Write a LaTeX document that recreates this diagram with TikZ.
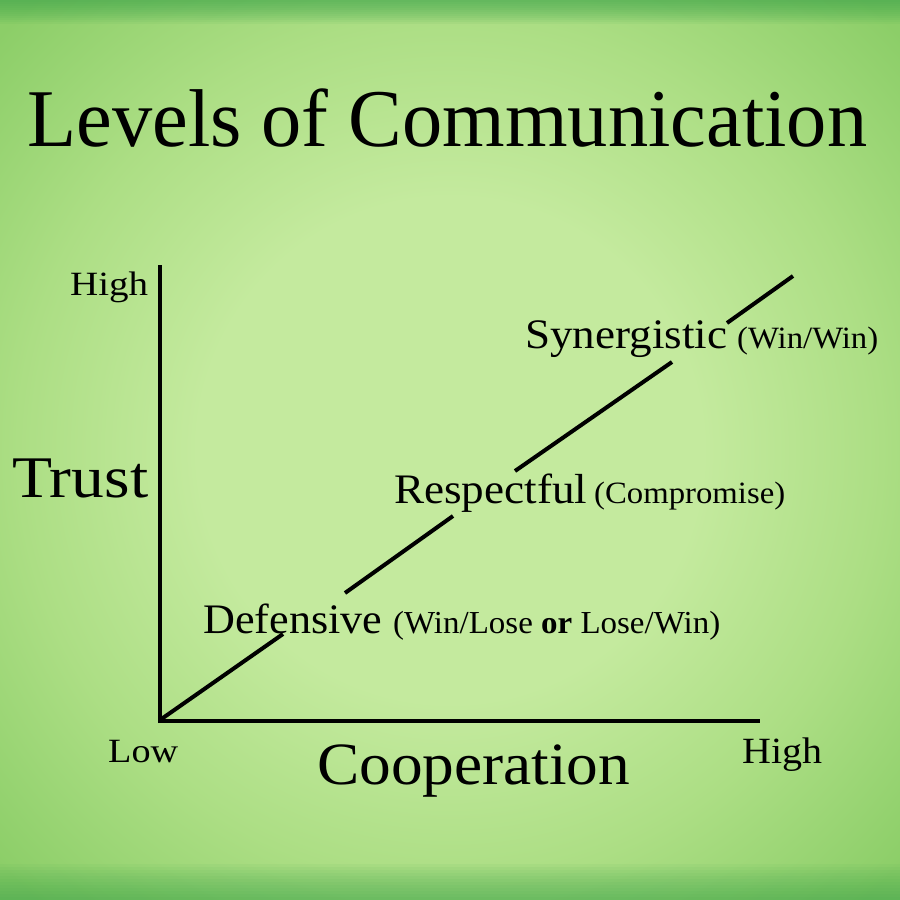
\documentclass[tikz,border=0pt]{standalone}
\usepackage{fontspec}
\setmainfont{Liberation Serif}
\definecolor{bgin}{RGB}{196,234,158}
\definecolor{bgmid}{RGB}{172,222,132}
\definecolor{bgout}{RGB}{140,206,104}
\definecolor{edgegreen}{RGB}{60,165,75}
\pgfdeclareradialshading{bgshade}{\pgfpoint{0bp}{0bp}}{color(0bp)=(bgin); color(14bp)=(bgin); color(24bp)=(bgmid); color(34bp)=(bgout); color(50bp)=(bgout)}
\newcommand\fitto[2]{\resizebox{#1}{\height}{#2}}
\begin{document}
\begin{tikzpicture}[x=1pt,y=-1pt,
  txt/.style={inner sep=0pt, anchor=base west, text=black},
  axisline/.style={line width=4pt, black},
  diagline/.style={line width=4pt, black}]
\useasboundingbox (0,0) rectangle (900,900);
% background
\shade[shading=bgshade] (0,0) rectangle (900,900);
\foreach \i in {1,...,12} {
  \fill[edgegreen, opacity=0.07] (0,0) rectangle (900,{2*\i});
  \fill[edgegreen, opacity=0.06] (0,900) rectangle (900,{900-3*\i});
}
% title
\node[txt, font=\fontsize{82}{90}\selectfont] (title) at (27,146) {\fitto{840pt}{Levels of Communication}};
% axes
\coordinate (O) at (160,721);
\coordinate (ytop) at (160,265);
\coordinate (ybot) at (160,723);
\coordinate (xleft) at (158,721);
\coordinate (xright) at (760,721);
\draw[axisline] (ybot) -- (ytop);
\draw[axisline] (xleft) -- (xright);
% diagonal
\coordinate (d1a) at (160,720);
\coordinate (d1b) at (283,634);
\coordinate (d2a) at (345,593);
\coordinate (d2b) at (453,516);
\coordinate (d3a) at (515,471);
\coordinate (d3b) at (672,362);
\coordinate (d4a) at (727,323);
\coordinate (d4b) at (793,276);
\draw[diagline] (d1a) -- (d1b);
\draw[diagline] (d2a) -- (d2b);
\draw[diagline] (d3a) -- (d3b);
\draw[diagline] (d4a) -- (d4b);
% axis labels
\node[txt, font=\fontsize{34}{40}\selectfont] (hightop) at (70,295) {\fitto{78pt}{High}};
\node[txt, font=\fontsize{59}{66}\selectfont] (trust) at (12,497) {\fitto{136pt}{Trust}};
\node[txt, font=\fontsize{34}{40}\selectfont] (low) at (108,762) {\fitto{70pt}{Low}};
\node[txt, font=\fontsize{37}{42}\selectfont] (highbot) at (742,763) {\fitto{80pt}{High}};
\node[txt, font=\fontsize{60}{66}\selectfont] (coop) at (317,784) {\fitto{313pt}{Cooperation}};
% level labels
\node[txt, font=\fontsize{42}{48}\selectfont] (def) at (203,633) {\fitto{179pt}{Defensive}};
\node[txt, font=\fontsize{32}{38}\selectfont] (defp) at (393,633) {\fitto{327pt}{(Win/Lose \textbf{or} Lose/Win)}};
\node[txt, font=\fontsize{42}{48}\selectfont] (resp) at (394,503) {\fitto{193pt}{Respectful}};
\node[txt, font=\fontsize{31}{36}\selectfont] (respp) at (594,503) {\fitto{191pt}{(Compromise)}};
\node[txt, font=\fontsize{42}{48}\selectfont] (syn) at (525,348) {\fitto{202pt}{Synergistic}};
\node[txt, font=\fontsize{31}{36}\selectfont] (synp) at (737,348) {\fitto{141pt}{(Win/Win)}};
\end{tikzpicture}
\end{document}
